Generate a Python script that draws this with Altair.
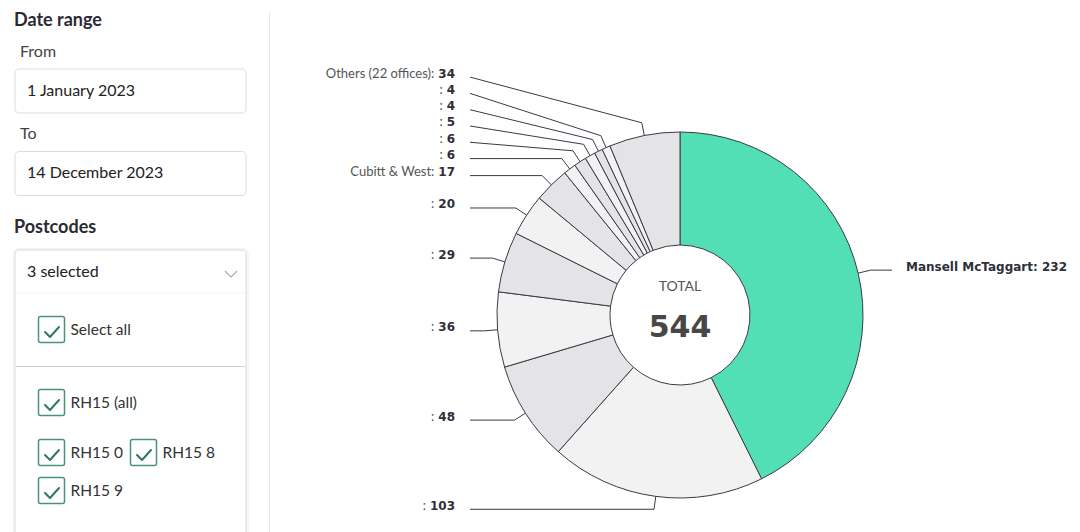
import math
import altair as alt
import pandas as pd

# ---------------- data ----------------
office_names = ["Mansell McTaggart", "", "", "", "", "", "Cubitt & West",
                "", "", "", "", "", "Others (22 offices)"]
office_values = [232, 103, 48, 36, 29, 20, 17, 6, 6, 5, 4, 4, 34]
GREEN, LIGHT, DARK = "#52dfb5", "#f2f2f3", "#e4e3e6"
slice_colors = [GREEN, LIGHT, DARK, LIGHT, DARK, LIGHT, DARK,
                LIGHT, DARK, LIGHT, DARK, LIGHT, DARK]

# sidebar texts
heading_texts = ["Date range", "Postcodes"]
label_texts = ["From", "To"]
input_texts = ["1 January 2023", "14 December 2023", "3 selected"]
checkbox_texts = ["Select all", "RH15 (all)", "RH15 0", "RH15 8", "RH15 9"]

# ---------------- layout ----------------
CX, CY = 680, 315
R_IN, R_OUT, ELBOW = 70, 183, 13
LEFT_X, RIGHT_X = 470, 892
SPACING = 16.3
STROKE = "#3a3a48"

total = sum(office_values)
rows, conn = [], []
cum = 0
for i, (n, v, c) in enumerate(zip(office_names, office_values, slice_colors)):
    a = (cum + v / 2) / total * 2 * math.pi
    cum += v
    ax, ay = CX + R_OUT * math.sin(a), CY - R_OUT * math.cos(a)
    ex, ey = CX + (R_OUT + ELBOW) * math.sin(a), CY - (R_OUT + ELBOW) * math.cos(a)
    rows.append(dict(idx=i, name=n, value=v, color=c, ang=a,
                     ax=ax, ay=ay, ex=ex, ey=ey, left=math.sin(a) < 0))
slices = pd.DataFrame(rows)

# resolve left label positions (bottom-up)
left = [r for r in rows if r["left"]]
left.sort(key=lambda r: r["ang"])  # bottom first
prev = None
for r in left:
    ly = r["ey"] if prev is None else min(r["ey"], prev - SPACING)
    r["ly"] = ly
    prev = ly
right = [r for r in rows if not r["left"]]
for r in right:
    r["ly"] = r["ey"]

for r in rows:
    lx = LEFT_X if r["left"] else RIGHT_X
    conn += [dict(s=r["idx"], o=0, x=lx, y=r["ly"]),
             dict(s=r["idx"], o=1, x=r["ex"], y=r["ey"]),
             dict(s=r["idx"], o=2, x=r["ax"], y=r["ay"])]
conn_df = pd.DataFrame(conn)

VAL_X = 455
left_vals = pd.DataFrame([dict(x=VAL_X, y=r["ly"] - 3.5, t=str(r["value"])) for r in left])
left_names = pd.DataFrame([dict(x=VAL_X - len(str(r["value"])) * 8.35 - 4, y=r["ly"] - 3.5,
                                t=(r["name"] + ":")) for r in left])
right_lbl = pd.DataFrame([dict(x=RIGHT_X + 14, y=r["ly"] - 3.5,
                               t=f'{r["name"]}: {r["value"]}') for r in right])

XS = alt.Scale(domain=[0, 1080], range=[0, 1080], nice=False, zero=False)
YS = alt.Scale(domain=[0, 532], range=[0, 532], nice=False, zero=False)


def X(f="x"):
    return alt.X(f"{f}:Q", scale=XS, axis=None)


def Y(f="y"):
    return alt.Y(f"{f}:Q", scale=YS, axis=None)


# ---------------- donut ----------------
arcs = alt.Chart(slices).mark_arc(innerRadius=R_IN, outerRadius=R_OUT, stroke=STROKE,
                                  strokeWidth=1).encode(
    theta=alt.Theta("value:Q", stack=True),
    color=alt.Color("color:N", scale=None),
    order=alt.Order("idx:Q"),
    x=alt.value(CX), y=alt.value(CY),
)

connectors = alt.Chart(conn_df).mark_line(color=STROKE, strokeWidth=1).encode(
    x=X(), y=Y(), detail="s:N", order=alt.Order("o:Q"))

vals_txt = alt.Chart(left_vals).mark_text(align="right", baseline="middle", font="DejaVu Sans",
                                          fontWeight="bold", fontSize=12, color="#2f2f3a").encode(
    x=X(), y=Y(), text="t:N")
names_txt = alt.Chart(left_names).mark_text(align="right", baseline="middle", font="Lato",
                                            fontSize=13, color="#555555").encode(
    x=X(), y=Y(), text="t:N")
right_txt = alt.Chart(right_lbl).mark_text(align="left", baseline="middle", font="DejaVu Sans",
                                           fontWeight="bold", fontSize=12, color="#2f2f3a").encode(
    x=X(), y=Y(), text="t:N")

center_df = pd.DataFrame([dict(x=CX, y=CY - 28, t="TOTAL"),
                          dict(x=CX, y=CY + 13, t=str(total))])
center_t1 = alt.Chart(center_df.iloc[[0]]).mark_text(align="center", baseline="middle", font="Lato",
                                                     fontSize=14, color="#555555").encode(
    x=X(), y=Y(), text="t:N")
center_t2 = alt.Chart(center_df.iloc[[1]]).mark_text(align="center", baseline="middle", font="DejaVu Sans",
                                                     fontSize=30, fontWeight="bold", color="#474747").encode(
    x=X(), y=Y(), text="t:N")

# ---------------- sidebar ----------------
divider = alt.Chart(pd.DataFrame([dict(x=269.5, y=12, y2=540)])).mark_rule(
    color="#e6e6e6", strokeWidth=1).encode(x=X(), y=Y(), y2="y2:Q")

shadow = alt.Chart(pd.DataFrame([dict(x=13, x2=249, y=248, y2=560)])).mark_rect(
    cornerRadius=6, fill="#000000", opacity=0.04).encode(x=X(), x2="x2:Q", y=Y(), y2="y2:Q")

boxes = alt.Chart(pd.DataFrame([dict(x=15, x2=246, y=69, y2=113),
                                dict(x=15, x2=246, y=151.5, y2=195.5),
                                dict(x=15, x2=246, y=250, y2=560)])).mark_rect(
    cornerRadius=4, fill="white", stroke="#dcdcdc", strokeWidth=1).encode(
    x=X(), x2="x2:Q", y=Y(), y2="y2:Q")

inner_lines = alt.Chart(pd.DataFrame([dict(x=16, x2=245.5, y=366.5, c="#cfcfcf"),
                                      dict(x=16, x2=245.5, y=293, c="#f3f3f3")])).mark_rule(
    strokeWidth=1).encode(x=X(), x2="x2:Q", y=Y(), color=alt.Color("c:N", scale=None))

chevron = alt.Chart(pd.DataFrame([dict(x=225, y=271, o=0), dict(x=231, y=277, o=1),
                                  dict(x=237, y=271, o=2)])).mark_line(
    color="#aaaaaa", strokeWidth=1.2).encode(x=X(), y=Y(), order="o:Q")

head_df = pd.DataFrame([dict(x=14, y=21, t=heading_texts[0]), dict(x=14, y=228, t=heading_texts[1])])
heads = alt.Chart(head_df).mark_text(align="left", baseline="middle", font="Lato", fontWeight="bold",
                                     fontSize=18, color="#2b2b33").encode(x=X(), y=Y(), text="t:N")

lab_df = pd.DataFrame([dict(x=20, y=52, t=label_texts[0]), dict(x=20, y=134, t=label_texts[1])])
labs = alt.Chart(lab_df).mark_text(align="left", baseline="middle", font="Lato",
                                   fontSize=16, color="#444444").encode(x=X(), y=Y(), text="t:N")

inp_df = pd.DataFrame([dict(x=27, y=91, t=input_texts[0]), dict(x=27, y=173, t=input_texts[1]),
                       dict(x=27, y=272, t=input_texts[2])])
inps = alt.Chart(inp_df).mark_text(align="left", baseline="middle", font="Lato",
                                   fontSize=16, color="#222222").encode(x=X(), y=Y(), text="t:N")

cb_pos = [(38.5, 316.5), (38.5, 389.5), (38.5, 439.5), (130.5, 439.5), (38.5, 477.5)]
cb_df = pd.DataFrame([dict(x=px, x2=px + 26, y=py, y2=py + 26) for px, py in cb_pos])
cboxes = alt.Chart(cb_df).mark_rect(cornerRadius=2, fill="white", stroke="#4a9378",
                                    strokeWidth=1.5).encode(x=X(), x2="x2:Q", y=Y(), y2="y2:Q")
chk = []
for k, (px, py) in enumerate(cb_pos):
    for o, (dx, dy) in enumerate([(6.5, 15.5), (11.5, 20.5), (20.5, 10.5)]):
        chk.append(dict(b=k, o=o, x=px + dx, y=py + dy))
checks = alt.Chart(pd.DataFrame(chk)).mark_line(color="#2f7a5e", strokeWidth=2, strokeCap="round",
                                                strokeJoin="round").encode(
    x=X(), y=Y(), detail="b:N", order="o:Q")

cbt_df = pd.DataFrame([dict(x=px + 32, y=py + 13.5, t=t) for (px, py), t in zip(cb_pos, checkbox_texts)])
cbt = alt.Chart(cbt_df).mark_text(align="left", baseline="middle", font="Lato",
                                  fontSize=15.5, color="#333333").encode(x=X(), y=Y(), text="t:N")

chart = alt.layer(
    divider, shadow, boxes, inner_lines, chevron, heads, labs, inps, cboxes, checks, cbt,
    arcs, connectors, vals_txt, names_txt, right_txt, center_t1, center_t2,
).properties(
    width=1080, height=532, autosize="none", padding=0, background="white"
).configure_view(stroke=None)

chart.save("out.html", embed_options={"renderer": "svg", "actions": False})
